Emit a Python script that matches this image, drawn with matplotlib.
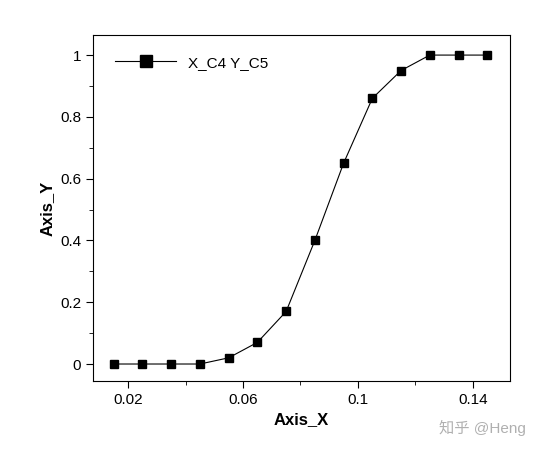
import matplotlib.pyplot as plt
from matplotlib.ticker import MultipleLocator, FixedLocator, FuncFormatter

plt.rcParams['font.family'] = ['Liberation Sans', 'Noto Sans CJK SC', 'DejaVu Sans']

x_vals = [0.015, 0.025, 0.035, 0.045, 0.055, 0.065, 0.075, 0.085, 0.095, 0.105, 0.115, 0.125, 0.135, 0.145]
y_vals = [0, 0, 0, 0, 0.02, 0.07, 0.17, 0.40, 0.65, 0.86, 0.95, 1, 1, 1]
x_major = [0.02, 0.06, 0.10, 0.14]
x_minor = [0.04, 0.08, 0.12]

fig = plt.figure(figsize=(5.45, 4.49), dpi=100)
ax = fig.add_axes([93/545, 1-381/449, 417/545, 346/449])

ax.plot(x_vals, y_vals, '-s', color='black', lw=0.8, markersize=5.5, label='X_C4 Y_C5')

ax.set_xlim(0.0078, 0.1529)
ax.set_ylim(-0.055, 1.065)
ax.xaxis.set_major_locator(FixedLocator(x_major))
ax.xaxis.set_minor_locator(FixedLocator(x_minor))
ax.yaxis.set_major_locator(MultipleLocator(0.2))
ax.yaxis.set_minor_locator(MultipleLocator(0.1))
fmt = FuncFormatter(lambda v, p: f"{v:.2f}".rstrip('0').rstrip('.') if abs(v) > 1e-9 else "0")
ax.xaxis.set_major_formatter(fmt)
ax.yaxis.set_major_formatter(fmt)
ax.tick_params(which='major', direction='out', length=5, labelsize=11)
ax.tick_params(which='minor', direction='out', length=3)

ax.set_xlabel('Axis_X', fontsize=12, fontweight='bold')
ax.set_ylabel('Axis_Y', fontsize=12, fontweight='bold')

leg = ax.legend(loc='upper left', frameon=False, fontsize=11, handlelength=4,
                markerscale=1.6, bbox_to_anchor=(0.02, 0.98))

fig.text(0.965, 0.03, '知乎 @Heng', color='#b0b0b0', fontsize=11, ha='right', va='bottom')

fig.savefig('out.png', dpi=100)
